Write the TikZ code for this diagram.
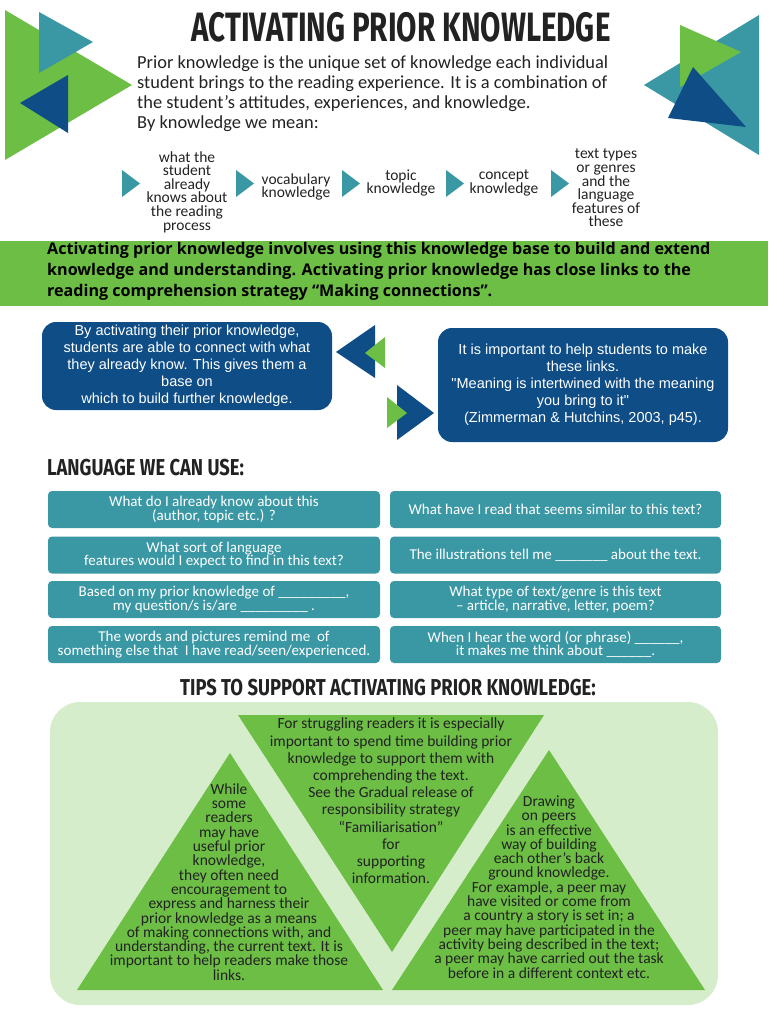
\documentclass[tikz,border=0pt]{standalone}
\usepackage{fontspec}
\setmainfont{Carlito}
\newfontfamily\arialf{Liberation Sans}
\newfontfamily\titlef{Fira Sans}
\newfontfamily\openf{Open Sans}
\definecolor{gr}{HTML}{6DBE45}
\definecolor{tl}{HTML}{3A98A5}
\definecolor{db}{HTML}{0F4D87}
\definecolor{lg}{HTML}{D6EDCB}
\definecolor{tx}{HTML}{222222}
\begin{document}
\begin{tikzpicture}[x=1pt,y=-1pt,
  lbl/.style={align=center,font=\fontsize{15.5}{13.6}\selectfont,text=tx,inner sep=0},
  bluebox/.style={fill=db,rounded corners=14pt,text=white,align=center,font=\arialf\fontsize{14.5}{17}\selectfont,inner sep=0},
  tbox/.style={fill=tl,rounded corners=4pt,text=white,align=center,font=\fontsize{15}{13.5}\selectfont,inner sep=0,minimum height=37pt},
  tri/.style={align=center,font=\fontsize{15.5}{14.3}\selectfont,text=tx,inner sep=0},
  hdr/.style={font=\titlef\bfseries\fontsize{23}{24}\selectfont,text=tx,inner sep=0}]
\useasboundingbox (0,0) rectangle (768,1024);
% corner shapes
\fill[gr] (5,10) -- (5,160) -- (132,85) -- cycle;
\fill[tl] (39,12) -- (39,73) -- (93,42) -- cycle;
\fill[db] (20,103) -- (68,75) -- (68,133) -- cycle;
\fill[tl] (644,85) -- (759,15) -- (759,155) -- cycle;
\fill[gr] (680,25) -- (680,87) -- (741,52) -- cycle;
\fill[db] (668,118) -- (746,127) -- (693,67) -- cycle;
% title
\node[inner sep=0,text=tx] (title) at (401,27) {\titlef\bfseries\fontsize{41}{41}\selectfont\scalebox{0.72}[1]{ACTIVATING PRIOR KNOWLEDGE}};
\node[anchor=north west,align=left,inner sep=0,text=tx,font=\fontsize{18.4}{20}\selectfont] (intro) at (137,56)
{Prior knowledge is the unique set of knowledge each individual\\student brings to the reading experience. It is a combination of\\the student’s attitudes, experiences, and knowledge.\\By knowledge we mean:};
% arrows row
\foreach \x in {122,236,342,446,551}{\fill[tl] (\x,170) -- (\x,197) -- (\x+18,183.5) -- cycle;}
\node[lbl] (k1) at (187,192) {what the\\student\\already\\knows about\\the reading\\process};
\node[lbl] (k2) at (296,187) {vocabulary\\knowledge};
\node[lbl] (k3) at (401,183) {topic\\knowledge};
\node[lbl] (k4) at (504,183) {concept\\knowledge};
\node[lbl] (k5) at (606,188) {text types\\or genres\\and the\\language\\features of\\these};
% green band
\fill[gr] (0,241) rectangle (768,306);
\node[anchor=north west,align=left,inner sep=0,text=black,font=\openf\bfseries\fontsize{16.1}{21}\selectfont] (band) at (47,242)
{Activating prior knowledge involves using this knowledge base to build and extend\\knowledge and understanding. Activating prior knowledge has close links to the\\reading comprehension strategy “Making connections”.};
% blue boxes
\node[bluebox,minimum width=290pt,minimum height=88pt] (b1) at (187,366) {\raisebox{-8pt}{\begin{tabular}{@{}c@{}}By activating their prior knowledge,\\students are able to connect with what\\they already know. This gives them a\\base on\\which to build further knowledge.\end{tabular}}};
\node[bluebox,minimum width=290pt,minimum height=114pt] (b2) at (583,385) {It is important to help students to make\\these links.\\"Meaning is intertwined with the meaning\\you bring to it"\\(Zimmerman \& Hutchins, 2003, p45).};
\fill[db] (336,352) -- (375,325) -- (375,378) -- cycle;
\fill[gr] (365,353) -- (385,337) -- (385,368) -- cycle;
\fill[db] (397,385) -- (397,440) -- (434,413) -- cycle;
\fill[gr] (387,397) -- (387,428) -- (407,413) -- cycle;
% language
\node[hdr,anchor=west] (lang) at (47,468) {\scalebox{0.8}[1]{LANGUAGE WE CAN USE:}};
\node[tbox,minimum width=332pt] (l1) at (214,509.5) {What do I already know about this\\(author, topic etc.) ?};
\node[tbox,minimum width=332pt] (l2) at (214,555) {What sort of language\\features would I expect to find in this text?};
\node[tbox,minimum width=332pt] (l3) at (214,599.5) {Based on my prior knowledge of \_\_\_\_\_\_\_\_\_,\\my question/s is/are \_\_\_\_\_\_\_\_\_ .};
\node[tbox,minimum width=332pt] (l4) at (214,644.5) {The words and pictures remind me\ \ of\\something else that\ \ I have read/seen/experienced.};
\node[tbox,minimum width=331pt] (r1) at (555.5,509.5) {What have I read that seems similar to this text?};
\node[tbox,minimum width=331pt] (r2) at (555.5,555) {The illustrations tell me \_\_\_\_\_\_\_ about the text.};
\node[tbox,minimum width=331pt] (r3) at (555.5,599.5) {What type of text/genre is this text\\– article, narrative, letter, poem?};
\node[tbox,minimum width=331pt] (r4) at (555.5,644.5) {When I hear the word (or phrase) \_\_\_\_\_\_,\\it makes me think about \_\_\_\_\_\_.};
% tips
\node[hdr] (tips) at (388,688) {\scalebox{0.8}[1]{TIPS TO SUPPORT ACTIVATING PRIOR KNOWLEDGE:}};
\fill[lg,rounded corners=30pt] (50,702) rectangle (718,1005);
\fill[gr] (77,990) -- (383,990) -- (230,753) -- cycle;
\fill[gr] (238,715) -- (544,715) -- (392,952) -- cycle;
\fill[gr] (392,990) -- (705,990) -- (549,750) -- cycle;
\node[tri,font=\fontsize{15.5}{17.2}\selectfont] (t2) at (391,801) {For struggling readers it is especially\\important to spend time building prior\\knowledge to support them with\\comprehending the text.\\See the Gradual release of\\responsibility strategy\\“Familiarisation”\\for\\supporting\\information.};
\node[tri] (t1) at (229,882) {While\\some\\readers\\may have\\useful prior\\knowledge,\\they often need\\encouragement to\\express and harness their\\prior knowledge as a means\\of making connections with, and\\understanding, the current text. It is\\important to help readers make those\\links.};
\node[tri] (t3) at (549,887) {Drawing\\on peers\\is an effective\\way of building\\each other’s back\\ground knowledge.\\For example, a peer may\\have visited or come from\\a country a story is set in; a\\peer may have participated in the\\activity being described in the text;\\a peer may have carried out the task\\before in a different context etc.};
\end{tikzpicture}
\end{document}
